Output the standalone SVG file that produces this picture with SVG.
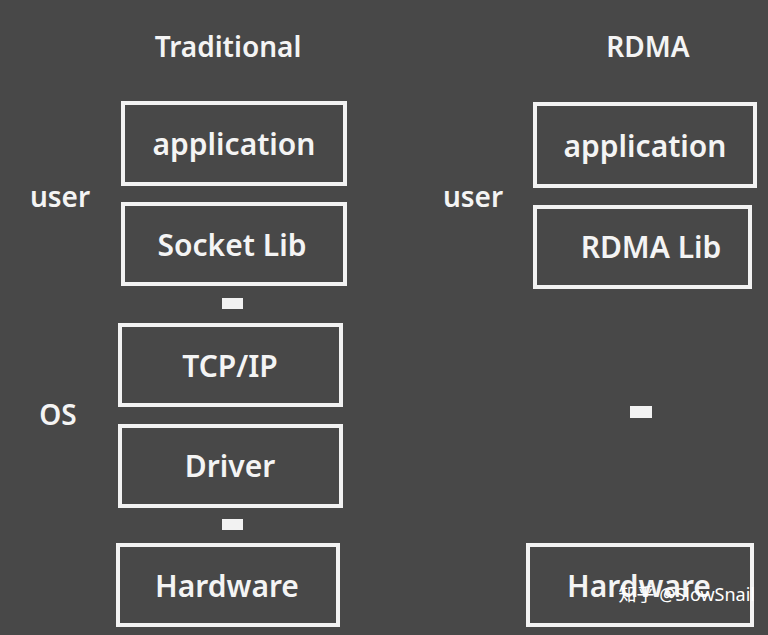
<svg xmlns="http://www.w3.org/2000/svg" width="768" height="635" viewBox="0 0 768 635">
<style>
.b{fill:none;stroke:#f2f2f2;stroke-width:4}
.t{font-family:"Noto Sans","Open Sans",sans-serif;font-weight:600;fill:#f4f4f4;text-anchor:middle;dominant-baseline:central}
.d{fill:#f2f2f2}
</style>
<rect width="768" height="635" fill="#484848"/>
<text class="t" x="228" y="46" font-size="28">Traditional</text>
<text class="t" x="648" y="46" font-size="28">RDMA</text>
<text class="t" x="60" y="196" font-size="28">user</text>
<text class="t" x="473" y="196" font-size="28">user</text>
<text class="t" x="58" y="414" font-size="28">OS</text>
<g id="t-app"><rect class="b" x="123" y="103" width="222" height="81"/><text class="t" x="234" y="143" font-size="30">application</text></g>
<g id="t-sock"><rect class="b" x="123" y="204" width="222" height="80"/><text class="t" x="232" y="244" font-size="30">Socket Lib</text></g>
<g id="t-tcp"><rect class="b" x="120" y="325" width="221" height="80"/><text class="t" x="230" y="365" font-size="30">TCP/IP</text></g>
<g id="t-drv"><rect class="b" x="120" y="426" width="221" height="80"/><text class="t" x="230" y="465" font-size="30">Driver</text></g>
<g id="t-hw"><rect class="b" x="118" y="545" width="220" height="80"/><text class="t" x="227" y="585" font-size="30">Hardware</text></g>
<g id="r-app"><rect class="b" x="535" y="104" width="220" height="82"/><text class="t" x="645" y="145" font-size="30">application</text></g>
<g id="r-lib"><rect class="b" x="535" y="207" width="215" height="80"/><text class="t" x="651" y="246" font-size="30">RDMA Lib</text></g>
<g id="r-hw"><rect class="b" x="528" y="545" width="224" height="80"/><text class="t" x="639" y="585" font-size="30">Hardware</text></g>
<g id="connectors">
<rect class="d" x="222" y="298" width="21" height="11"/>
<rect class="d" x="222" y="519" width="21" height="11"/>
<rect class="d" x="630" y="406" width="22" height="12"/>
</g>
<text x="755" y="601" font-family="'Noto Sans','Noto Sans CJK SC',sans-serif" font-size="18" fill="#ffffff" text-anchor="end">知乎 @SlowSnail</text>
</svg>
